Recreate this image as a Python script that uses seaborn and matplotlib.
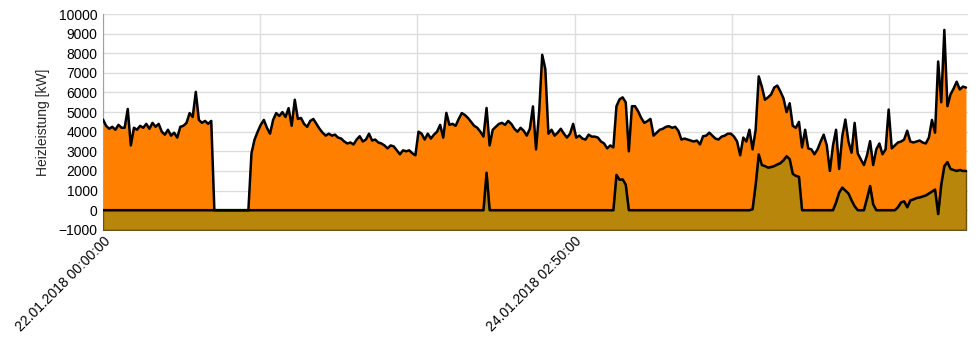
import numpy as np
import pandas as pd
import matplotlib
matplotlib.use("Agg")
import matplotlib.pyplot as plt
import matplotlib.transforms as mtransforms
import seaborn as sns

# ---- data (20-minute samples starting 22.01.2018 00:00) ----
start = "2018-01-22 00:00:00"
step = "20min"

total_kw = [
    4620, 4300, 4150, 4250, 4100, 4350, 4200, 4200, 5160, 3300,
    4200, 4100, 4300, 4200, 4400, 4150, 4450, 4250, 4400, 4000,
    3850, 4100, 3800, 3950, 3700, 4250, 4300, 4450, 4950, 4750,
    6030, 4600, 4450, 4550, 4400, 4550, 0, 0, 0, 0,
    0, 0, 0, 0, 0, 0, 0, 0, 2900, 3600,
    4000, 4350, 4600, 4200, 3900, 4600, 4950, 4800, 5000, 4750,
    5200, 4300, 5630, 4650, 4700, 4400, 4250, 4550, 4650, 4400,
    4150, 3950, 3800, 3900, 3800, 3850, 3700, 3650, 3500, 3400,
    3450, 3350, 3600, 3770, 3500, 3600, 3900, 3550, 3600, 3450,
    3400, 3300, 3150, 3300, 3250, 3050, 2850, 3050, 3000, 3050,
    2900, 2800, 4000, 3900, 3600, 3900, 3650, 3850, 4000, 4350,
    3700, 4960, 4350, 4400, 4300, 4650, 4950, 4850, 4700, 4500,
    4300, 4200, 4000, 3750, 5210, 3300, 4100, 4250, 4400, 4450,
    4350, 4550, 4400, 4150, 4000, 4200, 4050, 3800, 4150, 5290,
    3100, 5000, 7920, 7200, 3900, 4100, 3800, 3950, 4150, 3900,
    3700, 3900, 4400, 3700, 3800, 3650, 3600, 3850, 3750, 3750,
    3700, 3500, 3400, 3150, 3300, 3200, 5300, 5650, 5750, 5500,
    3000, 5300, 5300, 5040, 4700, 4450, 4540, 4650, 3800, 3950,
    4100, 4150, 4250, 4280, 4200, 4250, 4050, 3600, 3650, 3600,
    3550, 3500, 3550, 3350, 3770, 3800, 3950, 3800, 3650, 3600,
    3750, 3800, 3900, 3900, 3750, 3500, 2800, 3700, 3500, 4100,
    3100, 4100, 6820, 6300, 5630, 5750, 5900, 6250, 6350, 6050,
    5700, 5000, 5450, 4300, 4200, 4500, 3200, 4100, 3150, 3100,
    2850, 3100, 3500, 3850, 3300, 2000, 3300, 4100, 2100, 3770,
    4620, 3500, 2930, 4450, 2900, 2590, 2300, 2800, 3520, 2300,
    3100, 3400, 2850, 3100, 5130, 3150, 3300, 3450, 3500, 3600,
    4050, 3500, 3450, 3500, 3550, 3450, 3400, 3700, 4600, 3950,
    7580, 5500, 9190, 5300, 5900, 6200, 6550, 6150, 6300, 6250,
]

base_kw = [
    0, 0, 0, 0, 0, 0, 0, 0, 0, 0, 0, 0, 0, 0, 0, 0, 0, 0, 0, 0,
    0, 0, 0, 0, 0, 0, 0, 0, 0, 0, 0, 0, 0, 0, 0, 0, 0, 0, 0, 0,
    0, 0, 0, 0, 0, 0, 0, 0, 0, 0, 0, 0, 0, 0, 0, 0, 0, 0, 0, 0,
    0, 0, 0, 0, 0, 0, 0, 0, 0, 0, 0, 0, 0, 0, 0, 0, 0, 0, 0, 0,
    0, 0, 0, 0, 0, 0, 0, 0, 0, 0, 0, 0, 0, 0, 0, 0, 0, 0, 0, 0,
    0, 0, 0, 0, 0, 0, 0, 0, 0, 0, 0, 0, 0, 0, 0, 0, 0, 0, 0, 0,
    0, 0, 0, 0, 1910, 0, 0, 0, 0, 0, 0, 0, 0, 0, 0, 0, 0, 0, 0, 0,
    0, 0, 0, 0, 0, 0, 0, 0, 0, 0, 0, 0, 0, 0, 0, 0, 0, 0, 0, 0,
    0, 0, 0, 0, 0, 0, 1800, 1550, 1570, 1300, 0, 0, 0, 0, 0, 0, 0, 0, 0, 0,
    0, 0, 0, 0, 0, 0, 0, 0, 0, 0, 0, 0, 0, 0, 0, 0, 0, 0, 0, 0,
    0, 0, 0, 0, 0, 0, 0, 0, 0, 0, 50, 1300, 2840, 2300, 2250, 2170, 2200, 2250, 2330, 2400,
    2550, 2750, 2600, 1850, 1750, 1700, 0, 0, 0, 0, 0, 0, 0, 0, 0, 0, 0, 400, 900, 1150,
    1000, 850, 500, 200, 0, 0, 0, 600, 1230, 300, 0, 0, 0, 0, 0, 0, 0, 150, 400, 450,
    150, 500, 550, 620, 650, 700, 750, 850, 950, 1050, -200, 1300, 2250, 2450, 2100, 2050, 2000, 2050, 2000, 2000,
]

y_label = "Heizleistung [kW]"
y_ticks = list(range(-1000, 10001, 1000))
x_label_texts = ["22.01.2018 00:00:00", "", "", "24.01.2018 02:50:00", "", ""]

# ---- style ----
sns.set_style("whitegrid")
plt.rcParams["font.family"] = ["Liberation Sans", "DejaVu Sans"]
plt.rcParams["font.size"] = 10

times = pd.date_range(start, periods=len(total_kw), freq=step)
df = pd.DataFrame({"time": times, "total": total_kw, "base": base_kw})

W, H = 979, 338
fig = plt.figure(figsize=(W / 100, H / 100), dpi=100)
ax = fig.add_axes([103 / W, 1 - 229.8 / H, (968 - 103) / W, (229.8 - 14) / H])

ymin = -1000
ax.fill_between(df["time"], df["total"], ymin, color="#FF8000", lw=0, zorder=2)
ax.fill_between(df["time"], df["base"], ymin, facecolor="#B8860B",
                edgecolor="#6b5410", lw=1.0, zorder=3)
sns.lineplot(data=df, x="time", y="total", color="black", lw=1.8, ax=ax, zorder=4)
sns.lineplot(data=df, x="time", y="base", color="black", lw=1.8, ax=ax, zorder=4)

t0 = pd.Timestamp(start)
grid_step = pd.Timedelta(minutes=3050 / 3)
xticks = [t0 + i * grid_step for i in range(len(x_label_texts))]
ax.set_xticks(xticks)
ax.set_xticklabels(x_label_texts, rotation=45, ha="right", va="top",
                   rotation_mode="anchor")
offset = mtransforms.ScaledTranslation(7 / 100, 0, fig.dpi_scale_trans)
for lab in ax.get_xticklabels():
    lab.set_transform(lab.get_transform() + offset)

ax.set_xlim(t0, t0 + pd.Timedelta(minutes=5593))
ax.set_ylim(ymin, 10000)
ax.set_yticks(y_ticks)
ax.set_ylabel(y_label, fontsize=10, labelpad=6)
ax.set_xlabel("")

ax.grid(True, color="#dddddd", lw=1)
ax.tick_params(axis="both", length=0, colors="#000000", labelsize=10)
ax.tick_params(axis="y", pad=4)
ax.tick_params(axis="x", pad=3)
for s in ["top", "right", "bottom"]:
    ax.spines[s].set_visible(False)
ax.spines["left"].set_color("#a0a0a0")
ax.spines["left"].set_linewidth(0.8)
ax.set_axisbelow(True)

fig.savefig("out.png", dpi=100)
